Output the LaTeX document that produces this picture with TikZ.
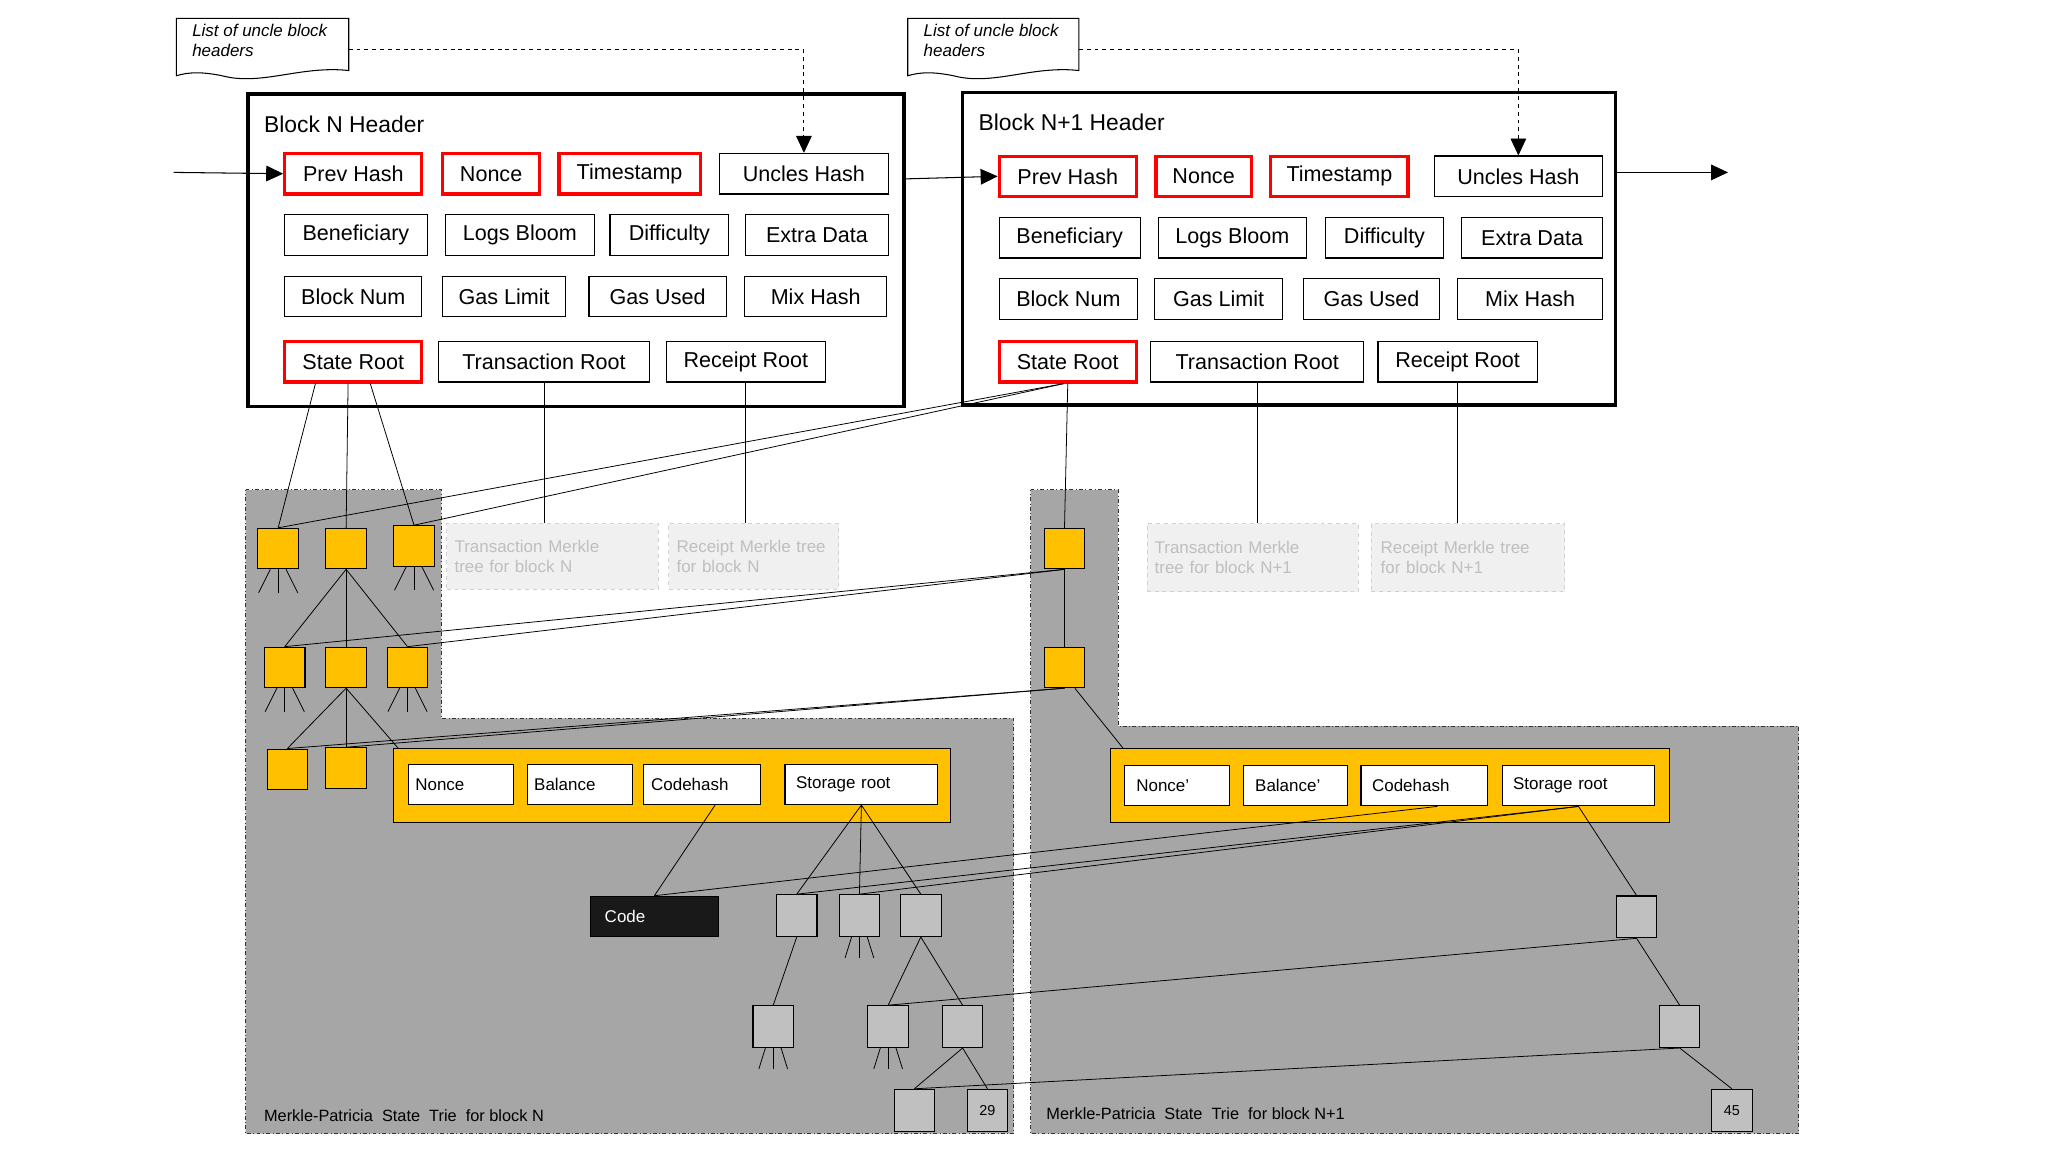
\documentclass[tikz,border=0pt]{standalone}
\usepackage{fontspec}
\setmainfont{Liberation Sans}
\usetikzlibrary{arrows.meta}
\definecolor{ylw}{HTML}{FFC000}
\definecolor{gry}{HTML}{A6A6A6}
\definecolor{sqg}{HTML}{C0C0C0}
\definecolor{faint}{HTML}{F0F0F0}
\begin{document}
\begin{tikzpicture}[x=1pt,y=-1pt,
 fld/.style={draw,line width=0.9pt,fill=white,minimum height=31pt,inner sep=0pt,font=\fontsize{16.5}{18}\selectfont},
 redf/.style={fld,draw=red,line width=2.4pt},
 hdr/.style={draw,line width=2.6pt},
 ysq/.style={draw,line width=0.8pt,fill=ylw,minimum width=31pt,minimum height=31pt,inner sep=0pt},
 gsq/.style={draw,line width=0.8pt,fill=sqg,minimum width=31pt,minimum height=32pt,inner sep=0pt,font=\fontsize{11}{12}\selectfont},
 acc/.style={draw,line width=0.8pt,fill=white,minimum height=31pt,inner sep=0pt,font=\fontsize{13}{15}\selectfont},
 faintbox/.style={draw=black!18,dashed,fill=faint,text=black!25,align=left,inner sep=0pt,font=\fontsize{13}{15.5}\selectfont},
 region/.style={fill=gry,draw=black!80,dash dot,line width=0.7pt},
 ln/.style={line width=0.6pt},
 arr/.style={line width=0.8pt,-{Triangle[length=13pt,width=12pt]}},
 note/.style={draw,line width=0.8pt,fill=white},
 nfont/.style={font=\fontsize{13}{16}\selectfont\itshape,align=left,anchor=north west,inner sep=0pt},
 lbl/.style={font=\fontsize{12.5}{14}\selectfont,anchor=west,inner sep=0pt}]
\useasboundingbox (0,0) rectangle (1568,882);
% grey regions
\draw[region] (188,375)--(338,375)--(338,550)--(776,550)--(776,868)--(188,868)--cycle;
\draw[region] (789,375)--(856,375)--(856,556)--(1377,556)--(1377,868)--(789,868)--cycle;
% notes
\draw[note] (135,14)--(267,14)--(267,54) .. controls (230,50) and (200,66) .. (170,58) .. controls (155,55) and (145,55) .. (135,58)--cycle;
\node[nfont] (nt1) at (147,18) {List of uncle block\\headers};
\draw[note] (695,14)--(826,14)--(826,54) .. controls (790,50) and (760,66) .. (730,58) .. controls (715,55) and (705,55) .. (695,58)--cycle;
\node[nfont] (nt2) at (707,18) {List of uncle block\\headers};
\coordinate (n1r) at (267,38);
\coordinate (n2r) at (826,38);
% headers
\draw[hdr] (190,72) rectangle (692,311);
\draw[hdr] (737,71) rectangle (1237,310);
\node[anchor=west,inner sep=0pt,font=\fontsize{17.5}{19}\selectfont] at (202,95) {Block N Header};
\node[anchor=west,inner sep=0pt,font=\fontsize{17.5}{19}\selectfont] at (749,94) {Block N+1 Header};
% block N fields
\node[redf,minimum width=105pt] (pa) at (270.5,133) {Prev Hash};
\node[redf,minimum width=74pt] (na) at (376,133) {Nonce};
\node[redf,minimum width=108pt] (ta) at (482,133) {Timestamp};
\node[fld,minimum width=129pt] (ua) at (615.5,133) {Uncles Hash};
\node[fld,minimum width=109pt] at (272.5,180) {Beneficiary};
\node[fld,minimum width=114pt] at (398,180) {Logs Bloom};
\node[fld,minimum width=91pt] at (512.5,180) {Difficulty};
\node[fld,minimum width=109pt] at (625.5,180) {Extra Data};
\node[fld,minimum width=105pt] at (270.5,227) {Block Num};
\node[fld,minimum width=94pt] at (386,227) {Gas Limit};
\node[fld,minimum width=105pt] at (503.5,227) {Gas Used};
\node[fld,minimum width=109pt] at (624.5,227) {Mix Hash};
\node[redf,minimum width=105pt] (sa) at (270.5,277) {State Root};
\node[fld,minimum width=161pt] (tra) at (416.5,277) {Transaction Root};
\node[fld,minimum width=122pt] (rra) at (571,277) {Receipt Root};
% block N+1 fields
\node[redf,minimum width=105pt] (pb) at (817.5,135) {Prev Hash};
\node[redf,minimum width=73pt] (nb) at (921.5,135) {Nonce};
\node[redf,minimum width=105pt] (tb) at (1025.5,135) {Timestamp};
\node[fld,minimum width=129pt] (ub) at (1162.5,135) {Uncles Hash};
\node[fld,minimum width=108pt] at (819,182) {Beneficiary};
\node[fld,minimum width=113pt] at (943.5,182) {Logs Bloom};
\node[fld,minimum width=90pt] at (1060,182) {Difficulty};
\node[fld,minimum width=108pt] at (1173,182) {Extra Data};
\node[fld,minimum width=106pt] at (818,229) {Block Num};
\node[fld,minimum width=98pt] at (933,229) {Gas Limit};
\node[fld,minimum width=104pt] at (1050,229) {Gas Used};
\node[fld,minimum width=111pt] at (1171.5,229) {Mix Hash};
\node[redf,minimum width=105pt] (sb) at (817.5,277) {State Root};
\node[fld,minimum width=163pt] (trb) at (962.5,277) {Transaction Root};
\node[fld,minimum width=122pt] (rrb) at (1116,277) {Receipt Root};
% arrows
\coordinate (in0) at (133,132);
\coordinate (hNr) at (692,137);
\coordinate (out) at (1323,132);
\draw[arr] (in0) -- (pa.west);
\draw[arr] (hNr) -- (pb.west);
\draw[arr] (1237,132) -- (out);
\draw[arr,dashed,line width=0.7pt] (n1r) -| (ua.north);
\draw[arr,dashed,line width=0.7pt] (n2r) -| (ub.north);
% faint merkle boxes
\node[faintbox,minimum width=162pt,minimum height=50pt,text width=150pt] (tma) at (423,426) {Transaction Merkle\\tree for block N};
\node[faintbox,minimum width=130pt,minimum height=50pt,text width=118pt] (rma) at (577,426) {Receipt Merkle tree\\for block N};
\node[faintbox,minimum width=162pt,minimum height=52pt,text width=150pt] (tmb) at (959,427) {Transaction Merkle\\tree for block N+1};
\node[faintbox,minimum width=148pt,minimum height=52pt,text width=134pt] (rmb) at (1124,427) {Receipt Merkle tree\\for block N+1};
\draw[ln] (tra.south) -- (tra.south |- tma.north);
\draw[ln] (rra.south) -- (rra.south |- rma.north);
\draw[ln] (trb.south) -- (trb.south |- tmb.north);
\draw[ln] (rrb.south) -- (rrb.south |- rmb.north);
% account boxes
\draw[line width=0.8pt,fill=ylw] (301,573) rectangle (728,630);
\draw[line width=0.8pt,fill=ylw] (850,573) rectangle (1278,630);
\node[acc,minimum width=80pt,text width=70pt] (an) at (353,600.5) {Nonce};
\node[acc,minimum width=80pt,text width=70pt] at (444,600.5) {Balance};
\node[acc,minimum width=89pt,text width=78pt] (ac) at (537.5,600.5) {Codehash};
\node[acc,minimum width=117pt,text width=100pt] (as) at (659.5,600.5) {Storage root};
\node[acc,minimum width=80pt,text width=62pt] at (901,601.5) {Nonce'};
\node[acc,minimum width=80pt,text width=62pt] at (992,601.5) {Balance'};
\node[acc,minimum width=97pt,text width=80pt] (bc) at (1090.5,601.5) {Codehash};
\node[acc,minimum width=117pt,text width=100pt] (bs) at (1208.5,601.5) {Storage root};
\node[draw,fill=black!90,text=white,minimum width=98pt,minimum height=31pt,inner sep=0pt,font=\fontsize{13}{15}\selectfont,text width=76pt] (code) at (501,701.5) {Code};
% yellow tree N
\node[ysq] (y1) at (213,420) {};
\node[ysq] (y2) at (265,420) {};
\node[ysq] (y3) at (317,418) {};
\node[ysq] (y4) at (218,511) {};
\node[ysq] (y5) at (265,511) {};
\node[ysq] (y6) at (312,511) {};
\node[ysq] (y7) at (220,589) {};
\node[ysq] (y8) at (265,588) {};
\draw[ln] (sa.south)++(-29,0) -- (y1.north);
\draw[ln] (sa.south)++(-4,0) -- (y2.north);
\draw[ln] (sa.south)++(13,0) -- (y3.north);
\draw[ln] (y2.south) -- (y4.north);
\draw[ln] (y2.south) -- (y5.north);
\draw[ln] (y2.south) -- (y6.north);
\draw[ln] (y5.south) -- (y7.north);
\draw[ln] (y5.south) -- (y8.north);
\draw[ln] (y5.south) -- (305,573);
\foreach \n in {y1,y3,y4,y6}{
 \draw[ln] (\n.south) ++(-6,0) -- ++(-9,18);
 \draw[ln] (\n.south) -- ++(0,18);
 \draw[ln] (\n.south) ++(6,0) -- ++(9,18);
}
% yellow tree N+1
\node[ysq] (z1) at (815,420) {};
\node[ysq] (z2) at (815,511) {};
\draw[ln] (sb.south) -- (z1.north);
\draw[ln] (z1.south) -- (z2.north);
\draw[ln] (z2.south east) ++(-8,0) -- (860,573);
\draw[ln] (sb.south) ++(-3,0) -- (y1.north);
\draw[ln] (sb.south) ++(-3,0) -- (y3.north);
\draw[ln] (z1.south) -- (y4.north);
\draw[ln] (z1.south) -- (y6.north);
\draw[ln] (z2.south) -- (y7.north);
\draw[ln] (z2.south) -- (y8.north);
% storage tree N
\node[gsq] (g1) at (610,701) {};
\node[gsq] (g2) at (658,701) {};
\node[gsq] (g3) at (705,701) {};
\node[gsq] (g4) at (592,786) {};
\node[gsq] (g5) at (680,786) {};
\node[gsq] (g6) at (737,786) {};
\node[gsq] (g7) at (700,850) {};
\node[gsq] (g8) at (756,850) {29};
\draw[ln] (ac.south) ++(10,0) -- (code.north);
\draw[ln] (as.south) -- (g1.north);
\draw[ln] (as.south) -- (g2.north);
\draw[ln] (as.south) -- (g3.north);
\draw[ln] (g1.south) -- (g4.north);
\draw[ln] (g3.south) -- (g5.north);
\draw[ln] (g3.south) -- (g6.north);
\draw[ln] (g6.south) -- (g7.north);
\draw[ln] (g6.south) -- (g8.north);
\foreach \n in {g2,g4,g5}{
 \draw[ln] (\n.south) ++(-6,0) -- ++(-5,16);
 \draw[ln] (\n.south) -- ++(0,16);
 \draw[ln] (\n.south) ++(6,0) -- ++(5,16);
}
% storage tree N+1
\node[gsq] (h1) at (1253,702) {};
\node[gsq] (h2) at (1286,786) {};
\node[gsq] (h3) at (1326,850) {45};
\draw[ln] (bc.south) ++(10,0) -- (code.north);
\draw[ln] (bs.south) -- (g1.north);
\draw[ln] (bs.south) -- (g2.north);
\draw[ln] (bs.south) -- (h1.north);
\draw[ln] (h1.south) -- (g5.north);
\draw[ln] (h1.south) -- (h2.north);
\draw[ln] (h2.south) -- (g7.north);
\draw[ln] (h2.south) -- (h3.north);
% labels
\node[lbl] at (202,854) {Merkle-Patricia\ \ State\ \ Trie\ \ for block N};
\node[lbl] at (801,853) {Merkle-Patricia\ \ State\ \ Trie\ \ for block N+1};
\end{tikzpicture}
\end{document}
